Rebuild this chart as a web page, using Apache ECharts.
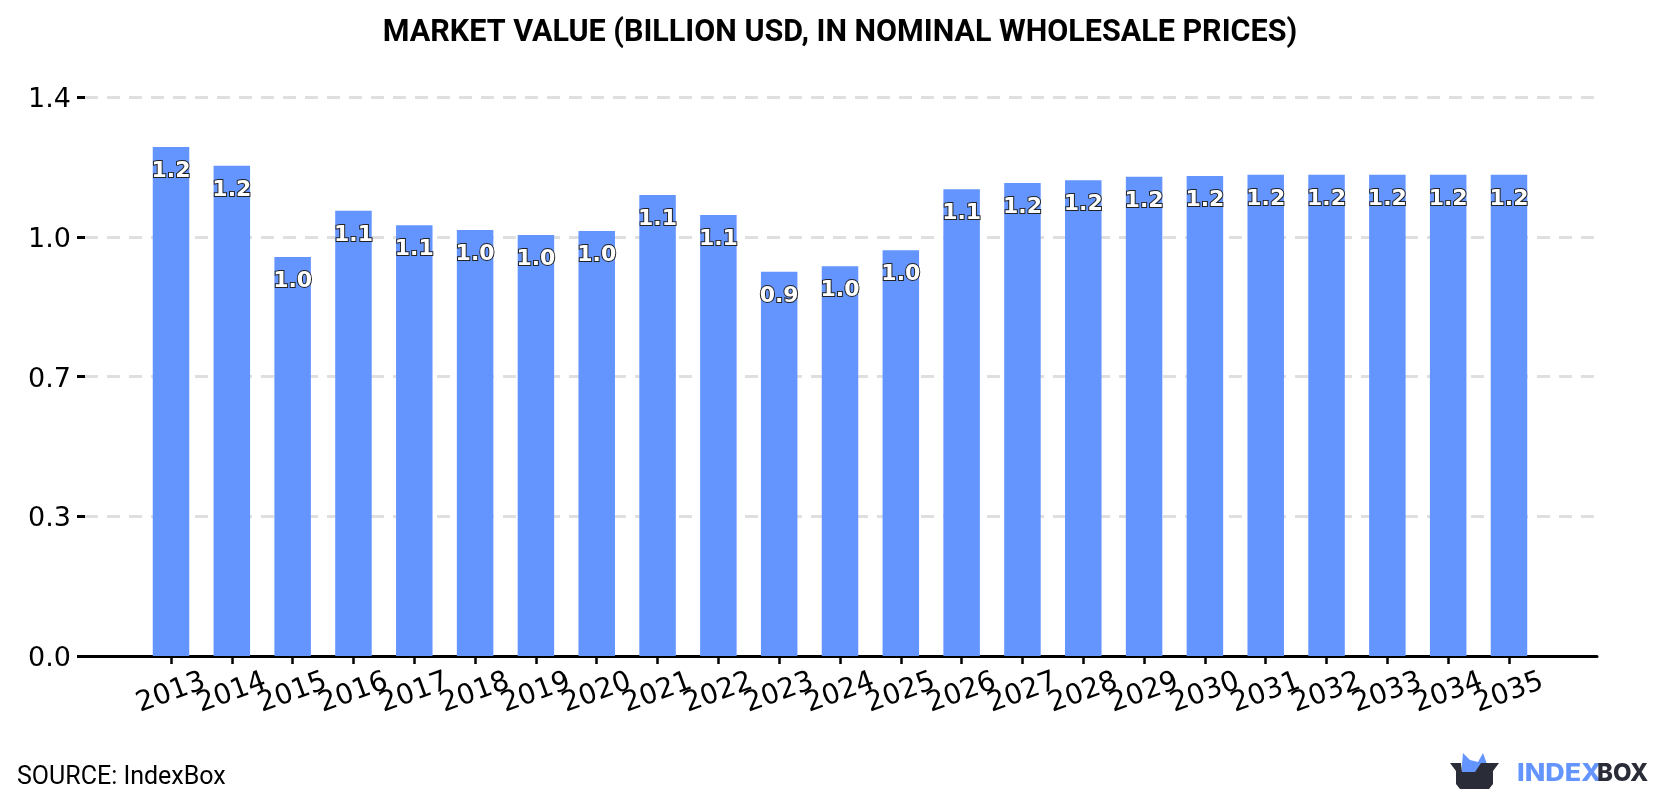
<!DOCTYPE html>
<html>
<head>
<meta charset="utf-8">
<title>Market value</title>
<script src="https://cdn.jsdelivr.net/npm/echarts@6/dist/echarts.min.js"></script>
<style>
  html, body { margin: 0; padding: 0; background: #fff; }
  #chart { width: 1680px; height: 800px; }
</style>
</head>
<body>
<div id="chart"></div>
<script>
const years = ['2013', '2014', '2015', '2016', '2017', '2018', '2019', '2020', '2021', '2022', '2023', '2024',
  '2025', '2026', '2027', '2028', '2029', '2030', '2031', '2032', '2033', '2034', '2035'];
const marketValue = [1.243, 1.197, 0.974, 1.087, 1.052, 1.040, 1.028, 1.038, 1.126, 1.077, 0.938, 0.952,
  0.991, 1.140, 1.155, 1.162, 1.170, 1.172, 1.175, 1.175, 1.175, 1.175, 1.175];
const yMax = 1.365;
const yStep = 0.34125;
const titleText = 'MARKET VALUE (BILLION USD, IN NOMINAL WHOLESALE PRICES)';
const sourceText = 'SOURCE: IndexBox';

const blue = '#6495ff';
const ink = '#2a2c38';

const chart = echarts.init(document.getElementById('chart'), null, { renderer: 'canvas' });

chart.setOption({
  animation: false,
  backgroundColor: '#fff',
  title: {
    text: titleText,
    left: 'center',
    top: 13,
    textStyle: { fontFamily: 'Roboto', fontWeight: 700, fontSize: 30.5, color: '#000' }
  },
  // Outer grid carries the value axis, gridlines and the full baseline;
  // the inner grid holds the year bands, inset from both ends of the baseline.
  grid: [
    { left: 85, right: 83, top: 97, bottom: 144 },
    { left: 140.6, right: 140.6, top: 97, bottom: 144 }
  ],
  xAxis: [
    {
      gridIndex: 0,
      type: 'value',
      min: 0,
      max: 1,
      splitLine: { show: false },
      axisLine: { show: true, onZero: false, lineStyle: { color: '#000', width: 3 } },
      axisTick: { show: false },
      axisLabel: { show: false }
    },
    {
      gridIndex: 1,
      type: 'category',
      data: years,
      axisLine: { show: false },
      axisTick: { show: true, alignWithLabel: true, length: 8, lineStyle: { color: '#000', width: 2.5 } },
      axisLabel: {
        interval: 0,
        hideOverlap: false,
        rotate: 20,
        align: 'center',
        verticalAlign: 'middle',
        margin: 37,
        fontFamily: 'DejaVu Sans',
        fontSize: 28,
        color: '#000'
      }
    }
  ],
  yAxis: [
    {
      gridIndex: 0,
      type: 'value',
      min: 0,
      max: yMax,
      interval: yStep,
      axisLine: { show: false },
      axisTick: { show: true, length: 8, lineStyle: { color: '#000', width: 3 } },
      axisLabel: {
        formatter: v => `{v|${v.toFixed(1)}}`,
        margin: 14,
        rich: {
          v: {
            lineHeight: 33,
            verticalAlign: 'bottom',
            fontFamily: 'DejaVu Sans',
            fontSize: 27,
            color: '#000'
          }
        }
      },
      splitLine: { show: true, lineStyle: { color: '#dfdfdf', width: 3, type: [13, 9] } }
    },
    {
      gridIndex: 1,
      type: 'value',
      min: 0,
      max: yMax,
      interval: yStep,
      show: false
    }
  ],
  series: [{
    type: 'bar',
    xAxisIndex: 1,
    yAxisIndex: 1,
    barWidth: 36.5,
    data: marketValue,
    itemStyle: { color: blue },
    label: {
      show: true,
      position: 'insideTop',
      distance: 13,
      formatter: p => p.value.toFixed(1),
      fontFamily: 'DejaVu Sans',
      fontWeight: 'bold',
      fontSize: 22,
      color: '#fff',
      textBorderColor: '#222',
      textBorderWidth: 2
    }
  }],
  graphic: [
    { type: 'text', left: 17, top: 765,
      style: { text: sourceText, fontFamily: 'Roboto', fontSize: 25, fill: '#000' } },
    // IndexBox mark: open box with a blue crown behind it, then the wordmark
    { type: 'polygon', shape: { points: [[1462, 764], [1463, 753], [1470, 760], [1478, 762], [1483, 753], [1487, 764], [1486, 773], [1477, 773], [1474, 772], [1462, 772]] },
      style: { fill: blue } },
    { type: 'polygon', shape: { points: [[1450, 763], [1461, 763], [1462, 772], [1475, 772], [1481, 763], [1499, 763], [1493, 771], [1493, 784], [1489, 789], [1460, 789], [1456, 784], [1456, 771]] },
      style: { fill: ink } },
    { type: 'text', x: 1517, y: 762, scaleX: 1.12,
      style: { text: 'INDEX', fontFamily: 'Inter', fontWeight: 800, fontSize: 24, fill: blue } },
    { type: 'text', x: 1597, y: 762,
      style: { text: 'BOX', fontFamily: 'Inter', fontWeight: 800, fontSize: 24, fill: ink } }
  ]
});
</script>
</body>
</html>
